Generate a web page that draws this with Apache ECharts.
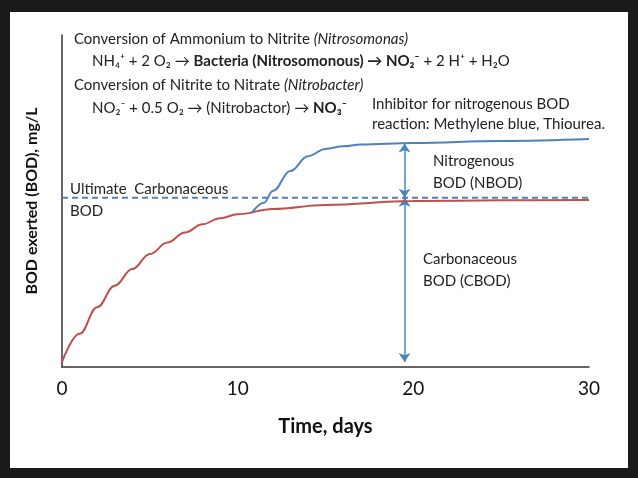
<!DOCTYPE html>
<html><head><meta charset="utf-8">
<script src="https://cdn.jsdelivr.net/npm/echarts@6/dist/echarts.min.js"></script>
<style>html,body{margin:0;background:#1a1a1a}#c{width:638px;height:478px}</style>
</head><body><div id="c"></div>
<script>
// 读图估计的数据 (y 为相对单位 0-100)
var cbodDays = [0, 1, 2, 3, 4, 5, 6, 7, 8, 9, 10, 12, 15, 20, 25, 30];
var cbodVals = [1.5, 10, 18, 24.5, 29.5, 34, 37.5, 40.5, 43, 44.8, 46, 47.6, 48.8, 50, 50.2, 50.3];
var nbodDays = [10.8, 11.5, 12, 13, 14, 15, 16, 17, 20, 25, 30];
var nbodVals = [46.4, 49.5, 53, 59, 63.5, 65.7, 66.5, 67, 67.5, 68.1, 68.7];
var ultimate = 51;
var arrowDay = 19.5;

function pairs(xs, ys) { return xs.map(function(x, i) { return [x, ys[i]]; }); }

var chart = echarts.init(document.getElementById('c'));
var font = 'Lato, "Open Sans", sans-serif';
var arrowColor = '#4a86c0';

var option = {
  backgroundColor: '#1a1a1a',
  animation: false,
  grid: { left: 62, right: 49, top: 35, bottom: 111 },
  xAxis: {
    type: 'value', min: 0, max: 30, interval: 10,
    axisLine: { lineStyle: { color: '#333', width: 1.5 } },
    axisTick: { show: false },
    splitLine: { show: false },
    axisLabel: { color: '#111', fontSize: 19, fontFamily: font, margin: 12 },
    name: 'Time, days', nameLocation: 'middle', nameGap: 50,
    nameTextStyle: { color: '#111', fontSize: 20, fontWeight: 'bold', fontFamily: font }
  },
  yAxis: {
    type: 'value', min: 0, max: 100,
    axisLine: { show: true, lineStyle: { color: '#333', width: 1.5 } },
    axisTick: { show: false }, axisLabel: { show: false }, splitLine: { show: false },
    name: 'BOD exerted (BOD), mg/L', nameLocation: 'middle', nameGap: 22,
    nameTextStyle: { color: '#111', fontSize: 16, fontWeight: 'bold', fontFamily: font }
  },
  graphic: [
    { type: 'rect', z: -10, shape: { x: 10, y: 12, width: 618, height: 456 }, style: { fill: '#fff' } },
    { type: 'text', left: 74, top: 32, style: { text: 'Conversion of Ammonium to Nitrite {i|(Nitrosomonas)}', font: '15px ' + font, fill: '#222',
      rich: { i: { fontStyle: 'italic', fontSize: 15, fontFamily: font } } } },
    { type: 'text', left: 92, top: 54, style: { text: 'NH₄⁺ + 2 O₂ → {b|Bacteria (Nitrosomonous) → NO₂⁻} + 2 H⁺ + H₂O', font: '15px ' + font, fill: '#222',
      rich: { b: { fontWeight: 'bold', fontSize: 15, fontFamily: font } } } },
    { type: 'text', left: 74, top: 78, style: { text: 'Conversion of Nitrite to Nitrate {i|(Nitrobacter)}', font: '15px ' + font, fill: '#222',
      rich: { i: { fontStyle: 'italic', fontSize: 15, fontFamily: font } } } },
    { type: 'text', left: 92, top: 101, style: { text: 'NO₂⁻ + 0.5 O₂ → (Nitrobactor) → {b|NO₃⁻}', font: '15px ' + font, fill: '#222',
      rich: { b: { fontWeight: 'bold', fontSize: 15, fontFamily: font } } } },
    { type: 'text', left: 372, top: 94, style: { text: 'Inhibitor for nitrogenous BOD\nreaction: Methylene blue, Thiourea.', font: '15px ' + font, fill: '#222', lineHeight: 20 } },
    { type: 'text', left: 433, top: 150, style: { text: 'Nitrogenous\nBOD (NBOD)', font: '15px ' + font, fill: '#222', lineHeight: 22 } },
    { type: 'text', left: 423, top: 248, style: { text: 'Carbonaceous\nBOD (CBOD)', font: '15px ' + font, fill: '#222', lineHeight: 22 } },
    { type: 'text', left: 70, top: 178, style: { text: 'Ultimate  Carbonaceous\nBOD', font: '15px ' + font, fill: '#222', lineHeight: 22 } }
  ],
  series: [
    { type: 'line', data: pairs(cbodDays, cbodVals), smooth: 0.4, smoothMonotone: 'x', showSymbol: false,
      lineStyle: { color: '#c0504d', width: 2 } },
    { type: 'line', data: pairs(nbodDays, nbodVals), smooth: 0.4, smoothMonotone: 'x', showSymbol: false,
      lineStyle: { color: '#4f81bd', width: 2 } },
    { type: 'line', data: [[0, ultimate], [30, ultimate]], showSymbol: false,
      lineStyle: { color: '#4f81bd', width: 2, type: [6, 4] } },
    { type: 'lines', coordinateSystem: 'cartesian2d', symbol: ['arrow', 'arrow'], symbolSize: 9,
      lineStyle: { color: arrowColor, width: 1.5, opacity: 1 },
      data: [{ coords: [[arrowDay, ultimate], [arrowDay, 1.5]] }, { coords: [[arrowDay, ultimate], [arrowDay, 67.3]] }] }
  ]
};
chart.setOption(option);
</script></body></html>
